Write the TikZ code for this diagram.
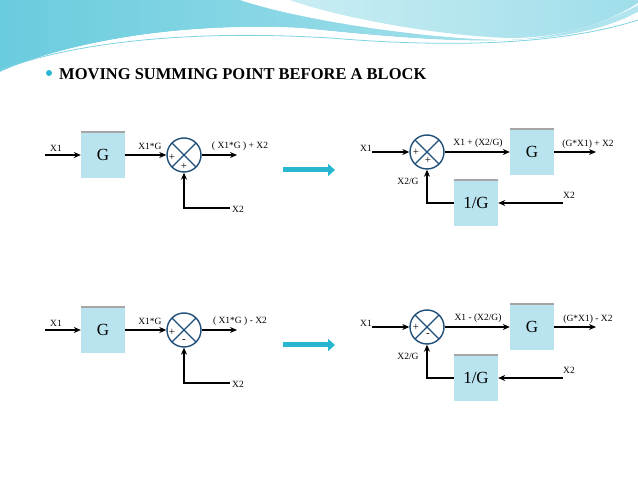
\documentclass[tikz,border=0pt]{standalone}
\usepackage{fontspec}
\setmainfont{Liberation Serif}
\usetikzlibrary{arrows.meta}
\definecolor{blk}{HTML}{B9E3EE}
\definecolor{sumc}{HTML}{1F4E79}
\definecolor{teal1}{HTML}{29B6D0}
\begin{document}
\begin{tikzpicture}[x=1pt,y=-1pt,
  blk/.style={fill=blk,minimum width=44pt,minimum height=46pt,inner sep=0pt,font=\fontsize{17}{17}\selectfont,
    path picture={\draw[gray!70,line width=2pt](path picture bounding box.north west)--(path picture bounding box.north east);}},
  sum/.style={circle,draw=sumc,line width=1.4pt,minimum size=34pt,inner sep=0pt,
    path picture={\draw[sumc,line width=1.4pt](path picture bounding box.north west)--(path picture bounding box.south east)
      (path picture bounding box.north east)--(path picture bounding box.south west);}},
  ar/.style={-{Stealth[length=7pt,width=6pt]},line width=1.2pt},
  lb/.style={font=\fontsize{9.5}{9.5}\selectfont,inner sep=1pt},
  sg/.style={font=\fontsize{11}{11}\selectfont,inner sep=0pt},
  big/.style={-{Triangle[length=7pt,width=12pt]},line width=5pt,teal1}]
\useasboundingbox (0,0) rectangle (638,478);
% header waves
\shade[left color=teal1!70,right color=teal1!35] (0,0)--(638,0)--(638,12) .. controls (560,55) and (420,40) .. (300,28) .. controls (170,22) and (60,45) .. (0,72) -- cycle;
\fill[white] (300,28) .. controls (420,40) and (560,55) .. (638,12) -- (638,25) .. controls (560,62) and (420,52) .. (300,38) .. controls (170,28) and (60,50) .. (0,75) -- (0,72) .. controls (60,45) and (170,22) .. (300,28);
\fill[white] (240,0) .. controls (300,20) and (420,38) .. (500,40) .. controls (560,40) and (610,20) .. (638,5) -- (638,0) -- cycle;
\shade[left color=teal1!25,right color=teal1!45] (290,0) .. controls (340,18) and (440,36) .. (510,38) .. controls (570,38) and (615,18) .. (638,3) -- (638,0) -- cycle;
\draw[teal1!60,line width=0.8pt] (0,70) .. controls (80,40) and (200,30) .. (330,38) .. controls (450,48) and (560,45) .. (638,20);
% title
\fill[teal1] (49,73) circle (3pt);
\node[anchor=west,font=\bfseries\fontsize{16.5}{16.5}\selectfont,inner sep=0pt] (title) at (59,74) {MOVING SUMMING POINT BEFORE A BLOCK};
% big arrows
\coordinate (ba1) at (283,170); \coordinate (ba2) at (335,170);
\draw[big] (ba1)--(ba2);
\coordinate (bb1) at (283,345); \coordinate (bb2) at (335,345);
\draw[big] (bb1)--(bb2);
\foreach \dy/\s/\k in {0/+/a,175/-/b}{
\begin{scope}[yshift=-\dy]
% left
\coordinate (in\k) at (45,155);
\node[blk] (g\k) at (103,155) {G};
\node[sum] (s\k) at (184,155) {};
\coordinate (out\k) at (237,155);
\coordinate (fb\k) at (230,208);
\draw[ar] (in\k)--(g\k.west);
\draw[ar] (g\k.east)--(s\k.west);
\draw[ar] (s\k.east)--(out\k);
\draw[ar] (fb\k)-|(s\k.south);
\node[lb] (l1\k) at (56,148) {X1};
\node[lb] (l2\k) at (150,146) {X1*G};
\node[lb] (l3\k) at (240,146) {( X1*G ) \s{} X2};
\node[lb,anchor=west] (l4\k) at (231,209) {X2};
\node[sg] (p1\k) at (172,157) {+};
\node[sg] (p2\k) at (184,166) {\s};
% right
\coordinate (rin\k) at (372,152);
\node[sum] (rs\k) at (427,152) {};
\node[blk] (rg\k) at (532,152) {G};
\node[blk] (rh\k) at (476,203) {1/G};
\coordinate (rout\k) at (596,152);
\coordinate (rx\k) at (563,203);
\draw[ar] (rin\k)--(rs\k.west);
\draw[ar] (rs\k.east)--(rg\k.west);
\draw[ar] (rg\k.east)--(rout\k);
\draw[ar] (rx\k)--(rh\k.east);
\draw[ar] (rh\k.west)-|(rs\k.south);
\node[lb] (r1\k) at (366,148) {X1};
\node[lb] (r2\k) at (478,143) {X1 \s{} (X2/G)};
\node[lb] (r3\k) at (588,144) {(G*X1) \s{} X2};
\node[lb] (r4\k) at (408,181) {X2/G};
\node[lb] (r5\k) at (569,195) {X2};
\node[sg] (rp1\k) at (416,152) {+};
\node[sg] (rp2\k) at (428,160) {\s};
\end{scope}}
\end{tikzpicture}
\end{document}
